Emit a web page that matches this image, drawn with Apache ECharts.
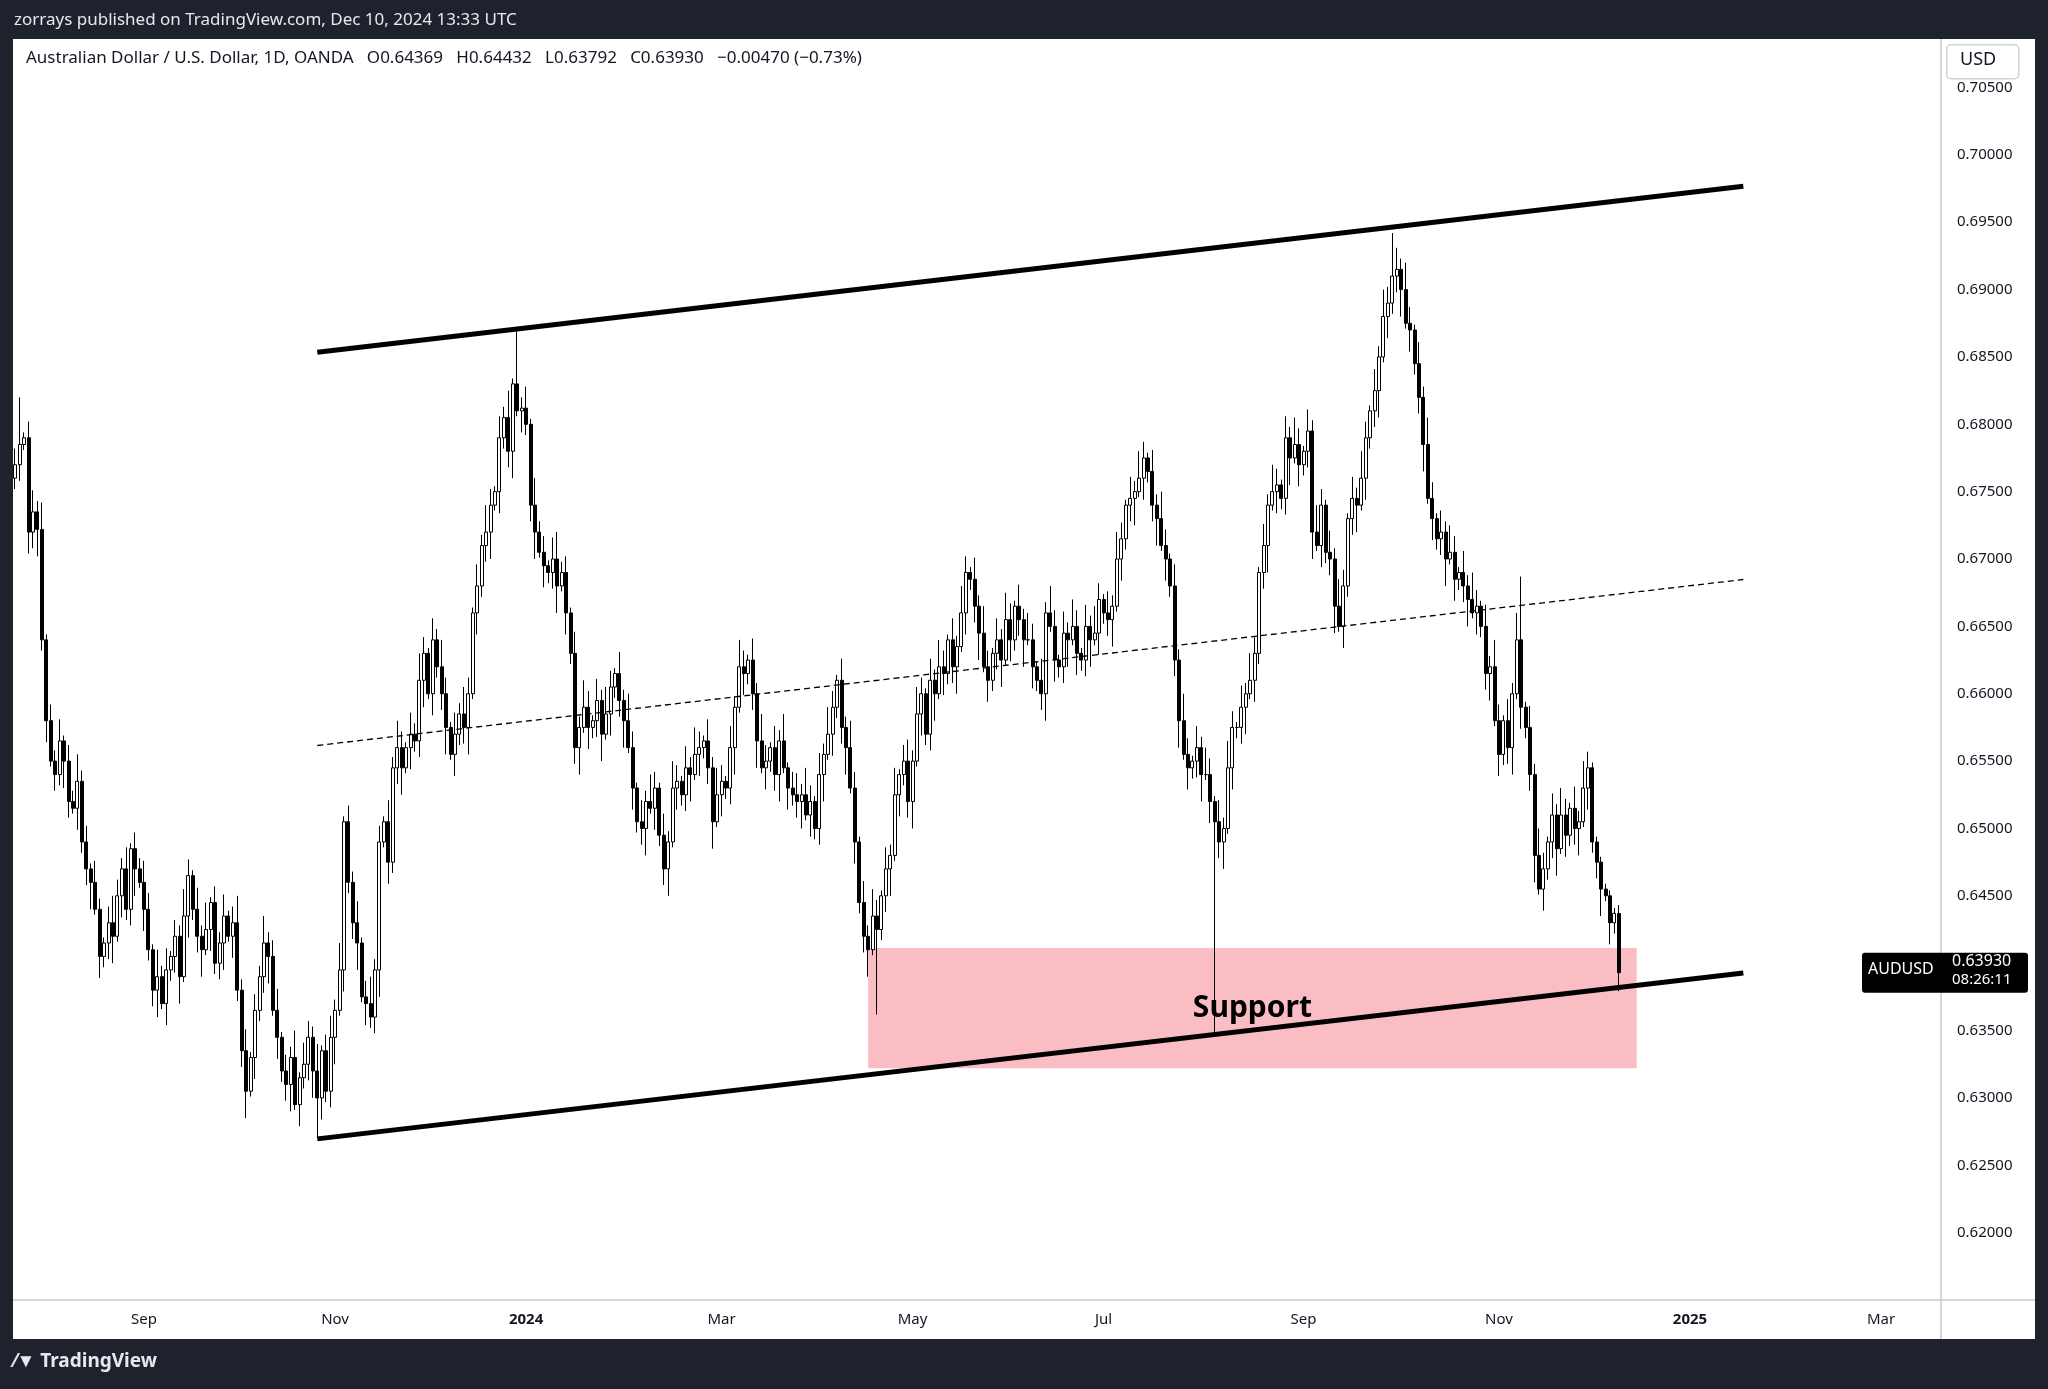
<!DOCTYPE html>
<html><head><meta charset="utf-8">
<script src="https://cdn.jsdelivr.net/npm/echarts@6/dist/echarts.min.js"></script>
<style>html,body{margin:0;padding:0;background:#1e222d;}#c{width:2048px;height:1389px;}</style>
</head><body><div id="c"></div>
<script>
// daily closes (x10000), Jul 24 2023 .. Dec 10 2024
const closes = [
6770,6785,6790,6720,6735,6722,
6640,6580,6550,6540,6565,6550,6520,6515,6535,6490,6470,6460,6440,6405,6415,6430,6420,6450,6470,6440,6485,6470,6460,
6440,6410,6380,6390,6370,6395,6405,6420,6390,6435,6465,6440,6420,6410,6425,6445,6400,6415,6435,6420,6430,
6380,6335,6305,6330,6365,6390,6415,6405,6365,6345,6320,6310,6330,6295,6315,6325,6345,6320,6300,6335,6305,6345,
6365,6395,6505,6460,6430,6415,6375,6370,6360,6395,6490,6505,6475,6545,6560,6545,6560,6570,6565,6610,6630,6600,
6640,6620,6600,6575,6555,6570,6585,6575,6600,6660,6680,6710,6720,6740,6750,6790,6805,6780,6830,6810,6812,
6800,6740,6720,6705,6695,6690,6700,6680,6690,6660,6630,6560,6575,6590,6575,6580,6595,6570,6585,6605,6615,6595,6580,
6560,6530,6505,6500,6520,6515,6530,6495,6470,6490,6530,6535,6525,6545,6540,6555,6560,6565,6545,6505,6525,
6535,6530,6560,6590,6620,6615,6625,6600,6565,6545,6550,6560,6540,6565,6545,6530,6525,6520,6525,6510,6520,
6500,6540,6555,6570,6590,6610,6575,6560,6530,6490,6445,6420,6410,6435,6425,6450,6470,6480,6525,6540,6550,6520,
6550,6585,6600,6570,6610,6600,6620,6615,6640,6620,6635,6660,6690,6685,6665,6645,6620,6610,6630,6640,6625,6655,6640,
6665,6655,6640,6640,6620,6610,6600,6660,6650,6625,6620,6645,6640,6650,6630,6625,6650,6640,6645,6670,
6660,6655,6665,6700,6715,6740,6745,6750,6760,6775,6765,6740,6730,6710,6700,6680,6625,6580,6555,6545,6550,6560,6540,
6540,6520,6505,6490,6500,6545,6575,6575,6590,6600,6610,6630,6690,6710,6740,6750,6755,6745,6790,6775,6785,6770,
6780,6795,6720,6710,6740,6705,6700,6665,6650,6680,6730,6745,6740,6760,6790,6810,6825,6850,6880,6890,6910,
6915,6900,6875,6870,6845,6820,6785,6745,6730,6715,6720,6700,6705,6685,6690,6680,6670,6660,6665,6650,6615,6620,6580,
6555,6580,6560,6600,6640,6590,6575,6540,6480,6455,6470,6490,6510,6485,6510,6495,6515,6500,6505,6530,6545,
6490,6475,6455,6450,6430,6437,6393
];
// wick lengths above / below body (units of 4 pips)
const wickUp = "3213425132413252314213532413243152413253142513241352413252341325143251342513241352314253142531425314253142531425132415231452314253142531425314253142531425314253142531425314251342531425314253142531425134253142531425314253142531425314253142531425314253142531425314253142531425314253142531425314253142531425314253142531425314253142531425314253142531425314253";
const wickDn = "2314352413253142351423514235142351423514235142351423514235142351423514235142351423514235142351423514235142351423514235142351423514235142351423514235142351423514235142351423514235142351423514235142351423514235142351423514235142351423514235142351423514235142351423514235142351423514235142351423514235142351423514235142351423514235142351423514235142351423514235142351";
// notable extremes [index, high, low]
const extremes = [[1,0.6820,null],[68,null,0.6270],[113,0.6871,null],[194,null,0.6362],[270,null,0.6349],[310,0.6942,null],[339,0.6687,null],[361,0.64432,0.63792]];
const lastOpen = 0.64369;
const priceTicks = {min:0.615, max:0.7086, interval:0.005};
const monthLabels = ["Sep","Nov","2024","Mar","May","Jul","Sep","Nov","2025","Mar"];
const upperLine = [[68,0.68535],[389,0.69767]];
const lowerLine = [[68,0.62696],[389,0.63928]];
const midLine = [[68,0.65616],[389,0.66848]];
const supportZone = [[192,0.64112],[365,0.63220]];

// dates
const dates = [];
let d = new Date(Date.UTC(2023,6,24));
const endD = new Date(Date.UTC(2025,2,20));
while (d <= endD) { const wd=d.getUTCDay(); if(wd>0&&wd<6) dates.push(d.toISOString().slice(0,10)); d=new Date(d.getTime()+86400000); }
const ohlc = [];
for (let i=0;i<closes.length;i++){
  const c=closes[i]/10000, o = i===0?0.6760:(i===closes.length-1?lastOpen:closes[i-1]/10000);
  let h=Math.max(o,c)+(+wickUp[i]||1)*0.0004, l=Math.min(o,c)-(+wickDn[i]||1)*0.0004;
  ohlc.push([o,c,l,h]);
}
extremes.forEach(([i,h,l])=>{ if(h!=null) ohlc[i][3]=h; if(l!=null) ohlc[i][2]=l; });
ohlc[ohlc.length-1][1]=0.63930;
const labelIdx = {};
let li=0;
for (let i=1;i<dates.length;i++){
  const m=+dates[i].slice(5,7), pm=+dates[i-1].slice(5,7);
  if (m!==pm && m%2===1 && li<monthLabels.length){ labelIdx[i]=monthLabels[li++]; }
}
const cat = i=>dates[i];

const chart = echarts.init(document.getElementById('c'));
const option = {
  animation:false,
  backgroundColor:'#1e222d',
  graphic:[
    {type:'rect',left:13,top:39,shape:{width:2022,height:1300},style:{fill:'#fff'},z:-10},
    {type:'line',shape:{x1:1941,y1:39,x2:1941,y2:1339},style:{stroke:'#c8cad0',lineWidth:1.5},z:5},
    {type:'line',shape:{x1:13,y1:1300,x2:2035,y2:1300},style:{stroke:'#c8cad0',lineWidth:1.5},z:5},
    {type:'text',left:14,top:12,style:{text:'zorrays published on TradingView.com, Dec 10, 2024 13:33 UTC',fill:'#e6e8ee',font:'17px "Noto Sans", sans-serif'}},
    {type:'text',left:26,top:50,style:{text:'Australian Dollar / U.S. Dollar, 1D, OANDA   O0.64369   H0.64432   L0.63792   C0.63930   −0.00470 (−0.73%)',fill:'#131722',font:'17px "Noto Sans", sans-serif'},z:10},
    {type:'rect',left:1946,top:44,shape:{width:72,height:34,r:4},style:{fill:'#fff',stroke:'#d0d2d8',lineWidth:1.5},z:10},
    {type:'text',left:1960,top:51,style:{text:'USD',fill:'#131722',font:'18px "Noto Sans", sans-serif'},z:11},
    {type:'text',left:14,top:1352,style:{text:'⁄▼ TradingView',fill:'#e6e8ee',font:'bold 19px "Noto Sans", sans-serif'}}
  ],
  grid:{left:13,right:107,top:39,bottom:89},
  xAxis:{type:'category',data:dates,boundaryGap:true,
    axisLine:{show:false},axisTick:{show:false},splitLine:{show:false},
    axisLabel:{interval:(i)=>labelIdx[i]!==undefined,formatter:(v,i)=>{const t=labelIdx[i];return /^\d{4}$/.test(t)?'{b|'+t+'}':t;},
      color:'#131722',fontSize:15,fontFamily:'Noto Sans',margin:12,rich:{b:{fontWeight:'bold',fontSize:15,color:'#131722'}}}},
  yAxis:{type:'value',position:'right',min:priceTicks.min,max:priceTicks.max,interval:priceTicks.interval,
    axisLine:{show:false},axisTick:{show:false},splitLine:{show:false},
    axisLabel:{formatter:v=>v.toFixed(5),color:'#131722',fontSize:15,fontFamily:'Noto Sans',margin:16,showMaxLabel:false,showMinLabel:false}},
  series:[{
    type:'candlestick',data:ohlc,barWidth:3.5,
    itemStyle:{color:'#ffffff',color0:'#000000',borderColor:'#000000',borderColor0:'#000000',borderWidth:1},
    markArea:{silent:true,itemStyle:{color:'rgba(248,182,189,0.9)'},
      label:{show:true,position:'inside',formatter:'Support',color:'#000',fontSize:30,fontWeight:'bold',fontFamily:'Noto Sans'},
      data:[[{coord:[cat(supportZone[0][0]),supportZone[0][1]]},{coord:[cat(supportZone[1][0]),supportZone[1][1]]}]]},
    markLine:{silent:true,symbol:'none',label:{show:false},animation:false,
      data:[
        [{coord:[cat(upperLine[0][0]),upperLine[0][1]],lineStyle:{color:'#000',width:5,type:'solid'}},{coord:[cat(upperLine[1][0]),upperLine[1][1]]}],
        [{coord:[cat(lowerLine[0][0]),lowerLine[0][1]],lineStyle:{color:'#000',width:5,type:'solid'}},{coord:[cat(lowerLine[1][0]),lowerLine[1][1]]}],
        [{coord:[cat(midLine[0][0]),midLine[0][1]],lineStyle:{color:'#000',width:1.3,type:[6,4]}},{coord:[cat(midLine[1][0]),midLine[1][1]]}]
      ]}
  }]
};
chart.setOption(option);
const py = chart.convertToPixel({gridIndex:0},[0,0.63930])[1];
const g = option.graphic.concat([
  {type:'rect',left:1862,top:py-20,shape:{width:166,height:40,r:3},style:{fill:'#000'},z:20},
  {type:'text',left:1868,top:py-11,style:{text:'AUDUSD',fill:'#fff',font:'16px "Noto Sans", sans-serif'},z:21},
  {type:'text',left:1952,top:py-19,style:{text:'0.63930',fill:'#fff',font:'16px "Noto Sans", sans-serif'},z:21},
  {type:'text',left:1952,top:py,style:{text:'08:26:11',fill:'#fff',font:'15px "Noto Sans", sans-serif'},z:21}
]);
chart.setOption({graphic:g});
</script></body></html>
